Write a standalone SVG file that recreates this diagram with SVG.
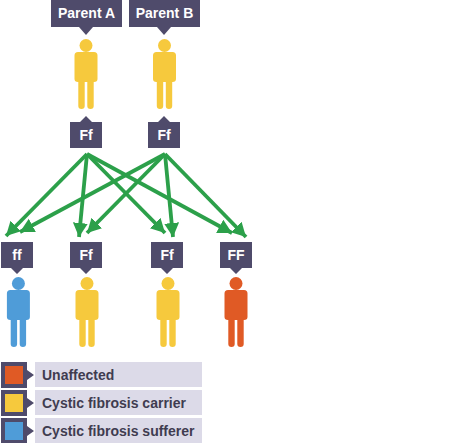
<svg xmlns="http://www.w3.org/2000/svg" width="464" height="443" viewBox="0 0 464 443">
<style>
.box{fill:#4f4b6b}
.t{font-family:"Liberation Sans",Arial,sans-serif;font-weight:bold;font-size:14px;fill:#fff;text-anchor:middle}
.l{font-family:"Liberation Sans",Arial,sans-serif;font-weight:bold;font-size:14px;fill:#3f3c50}
.bg{fill:#dcdae8}
.c{stroke:#2ca04a;stroke-width:3.8;fill:none;marker-end:url(#a)}
.y{fill:#f6c93d}.b{fill:#4f9cd8}.r{fill:#e05a25}
</style>
<defs>
<marker id="a" markerUnits="userSpaceOnUse" markerWidth="17" markerHeight="17" refX="14" refY="7.500" orient="auto"><path d="M0 0L14 7.500L0 15Z" fill="#2ca04a"/></marker>
<g id="person"><circle cx="0" cy="-19.500" r="6.500"/><path d="M-8-13H8Q11.500-13 11.500-9.500V14Q11.500 17 8 17H7.700V41Q7.700 44 4.500 44Q1.300 44 1.300 41V17H-1.300V41Q-1.300 44 -4.500 44Q-7.700 44 -7.700 41V17H-8Q-11.500 17 -11.500 14V-9.500Q-11.500-13 -8-13Z"/></g>
</defs>
<g id="connectors">
<path class="c" d="M87 154L6 236"/><path class="c" d="M87 154L79 237"/><path class="c" d="M87 154L165 233"/><path class="c" d="M87 154L232 233"/>
<path class="c" d="M165 154L20 232"/><path class="c" d="M165 154L87 233"/><path class="c" d="M165 154L173 237"/><path class="c" d="M165 154L246 237"/>
</g>
<g id="parent-a"><path class="box" d="M51 0H122V27H93L86 35L79 27H51Z"/><text class="t" x="86.500" y="18">Parent A</text></g>
<g id="parent-b"><path class="box" d="M129 0H200V27H171L164 35L157 27H129Z"/><text class="t" x="164.500" y="18">Parent B</text></g>
<g id="person-a" class="y"><use href="#person" x="86" y="65"/></g>
<g id="person-b" class="y"><use href="#person" x="164.500" y="65"/></g>
<g id="gene-a"><path class="box" d="M70 122H80L86 116L92 122H102V148H70Z"/><text class="t" x="86" y="140">Ff</text></g>
<g id="gene-b"><path class="box" d="M148 122H158L164 116L170 122H180V148H148Z"/><text class="t" x="164" y="140">Ff</text></g>
<g id="child-1"><path class="box" d="M1 242H33V268H23L17 274L11 268H1Z"/><text class="t" x="17" y="260">ff</text><use href="#person" class="b" x="18.400" y="303"/></g>
<g id="child-2"><path class="box" d="M70 242H102V268H92L86 274L80 268H70Z"/><text class="t" x="86" y="260">Ff</text><use href="#person" class="y" x="87" y="303"/></g>
<g id="child-3"><path class="box" d="M151 242H183V268H173L167 274L161 268H151Z"/><text class="t" x="167" y="260">Ff</text><use href="#person" class="y" x="168" y="303"/></g>
<g id="child-4"><path class="box" d="M220 242H252V268H242L236 274L230 268H220Z"/><text class="t" x="236" y="260">FF</text><use href="#person" class="r" x="236" y="303"/></g>
<g id="legend-unaffected"><path class="box" d="M1 362H27V370L34 375L27 380V388H1Z"/><rect class="r" x="5" y="366" width="18" height="18"/><rect class="bg" x="35" y="362" width="167" height="25"/><text class="l" x="42" y="380">Unaffected</text></g>
<g id="legend-carrier"><path class="box" d="M1 390H27V398L34 403L27 408V416H1Z"/><rect class="y" x="5" y="394" width="18" height="18"/><rect class="bg" x="35" y="390" width="167" height="25"/><text class="l" x="42" y="408">Cystic fibrosis carrier</text></g>
<g id="legend-sufferer"><path class="box" d="M1 418H27V426L34 431L27 436V443H1Z"/><rect class="b" x="5" y="422" width="18" height="18"/><rect class="bg" x="35" y="418" width="167" height="25"/><text class="l" x="42" y="436">Cystic fibrosis sufferer</text></g>
</svg>
